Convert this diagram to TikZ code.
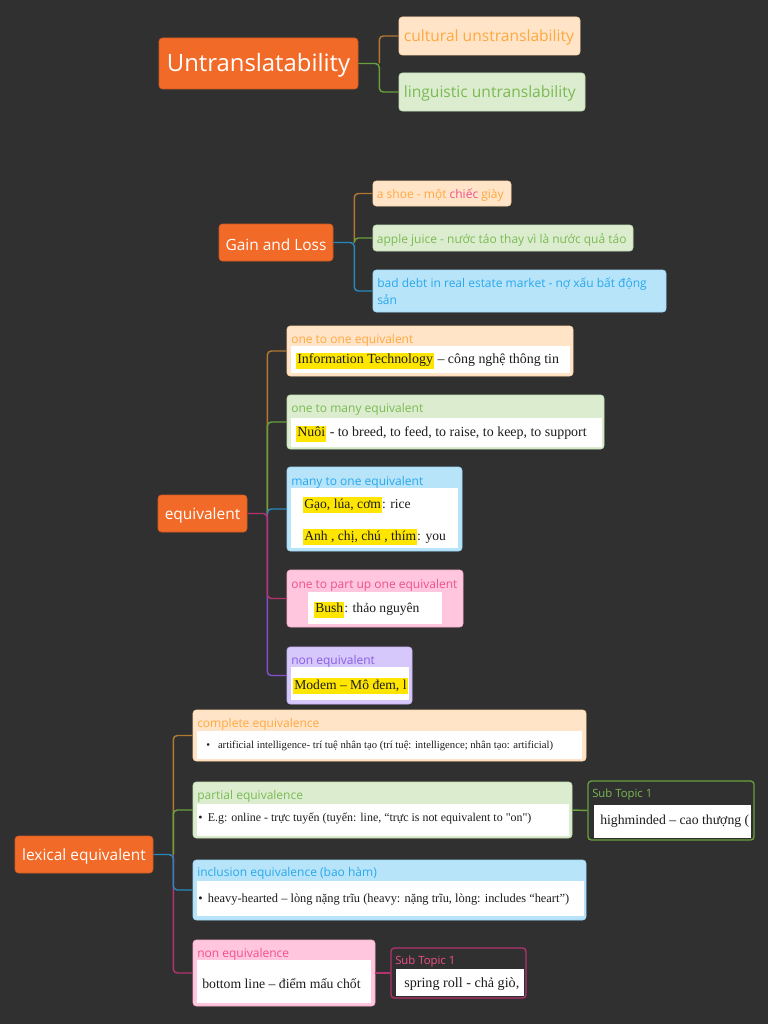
\documentclass[tikz,border=0pt]{standalone}
\usepackage{fontspec}
\setmainfont{Liberation Serif}[Ligatures=TeXOff]
\newfontfamily\mapfont{Open Sans}
\usetikzlibrary{positioning,fit,calc}
\definecolor{boardgray}{RGB}{48,48,48}
\definecolor{toporange}{RGB}{242,106,40}
\definecolor{inkgray}{RGB}{28,28,28}
\definecolor{peachfill}{RGB}{255,228,200}
\definecolor{peachtext}{RGB}{255,168,64}
\definecolor{peachline}{RGB}{176,120,48}
\definecolor{leaffill}{RGB}{220,236,207}
\definecolor{leaftext}{RGB}{122,186,84}
\definecolor{leafline}{RGB}{104,160,60}
\definecolor{skyfill}{RGB}{184,228,250}
\definecolor{skytext}{RGB}{40,168,236}
\definecolor{skyline}{RGB}{40,136,190}
\definecolor{rosefill}{RGB}{255,198,222}
\definecolor{rosetext}{RGB}{240,80,140}
\definecolor{roseline}{RGB}{180,50,110}
\definecolor{lilacfill}{RGB}{214,200,250}
\definecolor{lilactext}{RGB}{138,92,232}
\definecolor{lilacline}{RGB}{128,80,208}
\definecolor{markyellow}{RGB}{255,230,0}
\newcommand{\hiword}[1]{{\setlength{\fboxsep}{0.8pt}\colorbox{markyellow}{\strut #1}}}

\begin{document}
\begin{tikzpicture}[
    x=0.75pt, y=-0.75pt,
    topic/.style={rectangle, rounded corners=2.5pt, draw=toporange!85!black,
        line width=0.4pt, fill=toporange, inner sep=0pt},
    toptext/.style={text=white, inner sep=0pt, yshift=-1.5pt,
        font=\mapfont\fontsize{11.6}{14}\selectfont},
    card/.style={rectangle, rounded corners=2.5pt, draw=#1text!45, line width=0.5pt,
        fill=#1fill, inner sep=0pt},
    cardtext/.style={text=#1text, inner sep=0pt, anchor=west, yshift=-1.2pt,
        font=\mapfont\fontsize{9}{11}\selectfont},
    sheet/.style={rectangle, fill=white, inner sep=0pt},
    sheettext/.style={text=inkgray, inner sep=0pt, anchor=west, yshift=-1pt,
        font=\fontsize{#1}{#1}\selectfont},
    subcard/.style={rectangle, rounded corners=2.5pt, draw=#1line, line width=1pt,
        fill=boardgray, inner sep=0pt},
    branch/.style={draw=#1line, line width=1.1pt, rounded corners=3pt},
  ]
  \fill[boardgray] (0,0) rectangle (768,1024);
  \useasboundingbox (0,0) rectangle (768,1024);

  % Untranslatability
  \node[topic, fit={(159,38) (358,89)}] (untr) {};
  \node[toptext, font=\mapfont\fontsize{17.9}{21}\selectfont] at (untr.center) {Untranslatability};
  \node[card=peach, fit={(399,17) (580,55)}] (cult) {};
  \node[cardtext=peach, font=\mapfont\fontsize{11.7}{14}\selectfont, right=3.75pt of cult.west] {cultural unstranslability};
  \node[card=leaf, fit={(399,73) (585,111)}] (ling) {};
  \node[cardtext=leaf, font=\mapfont\fontsize{11.7}{14}\selectfont, right=3.75pt of ling.west] {linguistic untranslability};
  \coordinate[right=15.75pt of untr.east] (untrJ);
  \draw[branch=peach] (untrJ) |- (cult.west);
  \draw[branch=leaf] (untr.east) -- (untrJ) |- (ling.west);

  % Gain and Loss
  \node[topic, fit={(219,224) (333,261)}] (gain) {};
  \node[toptext] at (gain.center) {Gain and Loss};
  \node[card=peach, fit={(373,181) (511,206)}] (shoe) {};
  \node[cardtext=peach, right=3pt of shoe.west] {a shoe - một \textcolor{rosetext}{chiếc} giày};
  \node[card=leaf, fit={(373,225) (633,251)}] (juice) {};
  \node[cardtext=leaf, right=3pt of juice.west] {apple juice - nước táo thay vì là nước quả táo};
  \node[card=sky, fit={(373,270) (666,312)}] (debt) {};
  \node[cardtext=sky, anchor=north west, align=left, font=\mapfont\fontsize{9}{12.75}\selectfont]
    at (377,276) {bad debt in real estate market - nợ xấu bất động\\sản};
  \coordinate[right=15.75pt of gain.east] (gainJ);
  \draw[branch=peach] (gainJ) |- (shoe.west);
  \draw[branch=sky] (gain.east) -- (gainJ) |- (debt.west);
  \draw[branch=leaf] (gainJ) |- (juice.west);

  % equivalent
  \node[topic, fit={(158,495) (247,532)}] (equiv) {};
  \node[toptext] at (equiv.center) {equivalent};

  \node[card=peach, fit={(287,326) (573,376)}] (oneone) {};
  \node[cardtext=peach] at (291,339) {one to one equivalent};
  \node[sheet, fit={(291,346) (570,373)}] (oneoneS) {};
  \node[sheettext=10.45] at (296,359.5) {\hiword{Information Technology} – công nghệ thông tin};

  \node[card=leaf, fit={(287,395) (604,449)}] (onemany) {};
  \node[cardtext=leaf] at (291,408) {one to many equivalent};
  \node[sheet, fit={(291,418) (602,447)}] (onemanyS) {};
  \node[sheettext=10.45] at (296,432.5) {\hiword{Nuôi} - to breed, to feed, to raise, to keep, to support};

  \node[card=sky, fit={(287,467) (462,551)}] (manyone) {};
  \node[cardtext=sky] at (291,481) {many to one equivalent};
  \node[sheet, fit={(291,488) (458,548)}] (manyoneS) {};
  \node[sheettext=10.2] at (303,504) {\hiword{Gạo, lúa, cơm}: rice};
  \node[sheettext=10.2] at (303,536) {\hiword{Anh , chị, chú , thím}: you};

  \node[card=rose, fit={(287,570) (463,627)}] (onepart) {};
  \node[cardtext=rose] at (291,584) {one to part up one equivalent};
  \node[sheet, fit={(308,592) (442,624)}] (onepartS) {};
  \node[sheettext=10.2] at (314,608.5) {\hiword{Bush}: thảo nguyên};

  \node[card=lilac, fit={(287,647) (412,704)}] (noneq) {};
  \node[cardtext=lilac] at (291,660) {non equivalent};
  \node[sheet, fit={(291,667) (409,700)}] (noneqS) {};
  \begin{scope}
    \clip (noneqS.south west) rectangle (noneqS.north east);
    \node[sheettext=10.2] at (293,685) {\hiword{Modem – Mô đem, l}};
  \end{scope}

  \coordinate[right=15pt of equiv.east] (equivJ);
  \draw[branch=peach] (equivJ) |- (oneone.west);
  \draw[branch=lilac] (equivJ) |- (noneq.west);
  \draw[branch=leaf] (equivJ) |- (onemany.west);
  \draw[branch=rose] (equiv.east) -- (equivJ) |- (onepart.west);
  \draw[branch=sky] (equivJ) |- (manyone.west);

  % lexical equivalent
  \node[topic, fit={(15,836) (153,873)}] (lexeq) {};
  \node[toptext] at (lexeq.center) {lexical equivalent};

  \node[card=peach, fit={(193,710) (586,761)}] (complete) {};
  \node[cardtext=peach] at (197,723) {complete equivalence};
  \node[sheet, fit={(197,731) (582,759)}] (completeS) {};
  \node[sheettext=8.0] at (206,744.5) {\textbullet\hspace{6pt}artificial intelligence- trí tuệ nhân tạo (trí tuệ: intelligence; nhân tạo: artificial)};

  \node[card=leaf, fit={(193,782) (572,838)}] (partial) {};
  \node[cardtext=leaf] at (197,795) {partial equivalence};
  \node[sheet, fit={(197,804) (569,836)}] (partialS) {};
  \node[sheettext=8.95] at (198,817.5) {\textbullet\hspace{4pt}E.g: online - trực tuyến (tuyến: line, “trực is not equivalent to "on")};

  \node[subcard=leaf, fit={(588,781) (754,840)}] (partialSub) {};
  \node[cardtext=leaf, font=\mapfont\fontsize{8.5}{10}\selectfont] at (592,793) {Sub Topic 1};
  \node[sheet, fit={(594,805) (751,838)}] (partialSubS) {};
  \begin{scope}
    \clip (partialSubS.south west) rectangle (partialSubS.north east);
    \node[sheettext=10.3] at (600,819.5) {highminded – cao thượng (};
  \end{scope}

  \node[card=sky, fit={(193,860) (586,920)}] (inclusion) {};
  \node[cardtext=sky] at (197,872) {inclusion equivalence (bao hàm)};
  \node[sheet, fit={(197,881) (584,916)}] (inclusionS) {};
  \node[sheettext=9.3] at (198,898) {\textbullet\hspace{4pt}heavy-hearted – lòng nặng trĩu (heavy: nặng trĩu, lòng: includes “heart”)};

  \node[card=rose, fit={(193,940) (375,1006)}] (nonequi) {};
  \node[cardtext=rose] at (197,953) {non equivalence};
  \node[sheet, fit={(197,960) (371,1003)}] (nonequiS) {};
  \node[sheettext=10.3] at (202,982) {bottom line – điểm mấu chốt};

  \node[subcard=rose, fit={(391,948) (526,998)}] (nonequiSub) {};
  \node[cardtext=rose, font=\mapfont\fontsize{8.5}{10}\selectfont] at (395,960) {Sub Topic 1};
  \node[sheet, fit={(396,969) (524,996)}] (nonequiSubS) {};
  \node[sheettext=10.6] at (404,983) {spring roll - chả giò,};

  \coordinate[right=15pt of lexeq.east] (lexeqJ);
  \draw[branch=peach] (lexeqJ) |- (complete.west);
  \draw[branch=rose] (lexeqJ) |- (nonequi.west);
  \draw[branch=leaf] (lexeqJ) |- (partial.west);
  \draw[branch=sky] (lexeq.east) -- (lexeqJ) |- (inclusion.west);
  \draw[branch=leaf] (partial.east) -- (partialSub.west);
  \draw[branch=rose] (nonequi.east) -- (nonequiSub.west);
\end{tikzpicture}
\end{document}
